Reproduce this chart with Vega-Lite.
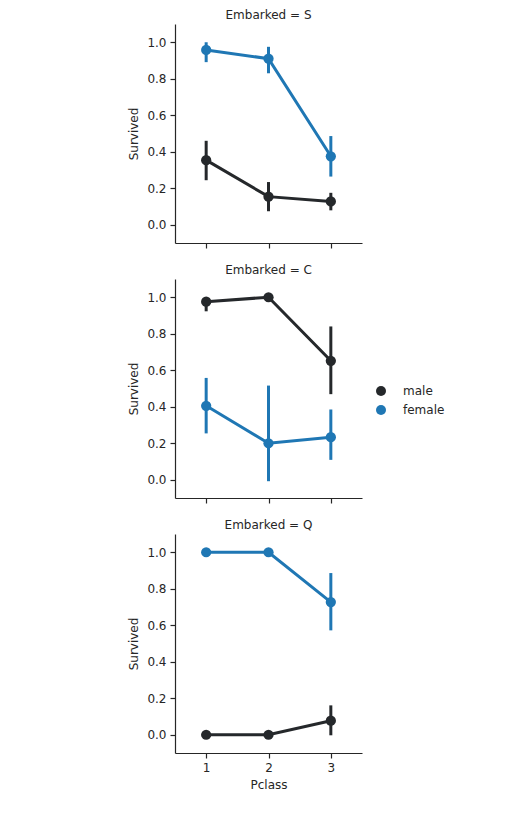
{
  "$schema": "https://vega.github.io/schema/vega-lite/v6.json",
  "padding": {"left": 127, "top": 9, "right": 5, "bottom": 5},
  "background": "white",
  "datasets": {
    "survival": [
      {"Embarked": "S", "Pclass": 1, "Sex": "male", "Survived": 0.354, "lo": 0.244, "hi": 0.46},
      {"Embarked": "S", "Pclass": 2, "Sex": "male", "Survived": 0.154, "lo": 0.074, "hi": 0.234},
      {"Embarked": "S", "Pclass": 3, "Sex": "male", "Survived": 0.128, "lo": 0.079, "hi": 0.175},
      {"Embarked": "S", "Pclass": 1, "Sex": "female", "Survived": 0.958, "lo": 0.891, "hi": 1.0},
      {"Embarked": "S", "Pclass": 2, "Sex": "female", "Survived": 0.91, "lo": 0.83, "hi": 0.975},
      {"Embarked": "S", "Pclass": 3, "Sex": "female", "Survived": 0.375, "lo": 0.264, "hi": 0.486},
      {"Embarked": "C", "Pclass": 1, "Sex": "male", "Survived": 0.976, "lo": 0.923, "hi": 1.0},
      {"Embarked": "C", "Pclass": 2, "Sex": "male", "Survived": 1.0, "lo": 1.0, "hi": 1.0},
      {"Embarked": "C", "Pclass": 3, "Sex": "male", "Survived": 0.652, "lo": 0.469, "hi": 0.84},
      {"Embarked": "C", "Pclass": 1, "Sex": "female", "Survived": 0.405, "lo": 0.254, "hi": 0.558},
      {"Embarked": "C", "Pclass": 2, "Sex": "female", "Survived": 0.2, "lo": -0.008, "hi": 0.516},
      {"Embarked": "C", "Pclass": 3, "Sex": "female", "Survived": 0.233, "lo": 0.109, "hi": 0.385},
      {"Embarked": "Q", "Pclass": 1, "Sex": "male", "Survived": 0.0, "lo": 0.0, "hi": 0.0},
      {"Embarked": "Q", "Pclass": 2, "Sex": "male", "Survived": 0.0, "lo": 0.0, "hi": 0.0},
      {"Embarked": "Q", "Pclass": 3, "Sex": "male", "Survived": 0.077, "lo": -0.003, "hi": 0.161},
      {"Embarked": "Q", "Pclass": 1, "Sex": "female", "Survived": 1.0, "lo": 1.0, "hi": 1.0},
      {"Embarked": "Q", "Pclass": 2, "Sex": "female", "Survived": 1.0, "lo": 1.0, "hi": 1.0},
      {"Embarked": "Q", "Pclass": 3, "Sex": "female", "Survived": 0.727, "lo": 0.572, "hi": 0.886}
    ]
  },
  "data": {"name": "survival"},
  "spacing": 15,
  "vconcat": [
    {
      "title": "Embarked = S",
      "width": 187,
      "height": 219,
      "transform": [{"filter": "datum.Embarked == 'S'"}],
      "encoding": {
        "x": {"field": "Pclass", "type": "ordinal", "scale": {"type": "point", "padding": 0.5},
              "axis": {"labels": false, "title": null}},
        "color": {"field": "Sex", "type": "nominal", "legend": null,
                  "scale": {"domain": ["male", "female"], "range": ["#25282b", "#1f77b4"]}}
      },
      "layer": [
        {"mark": {"type": "line", "strokeWidth": 3},
         "encoding": {"y": {"field": "Survived", "type": "quantitative", "title": "Survived",
                            "scale": {"domain": [-0.05, 1.053]},
                            "axis": {"values": [0, 0.2, 0.4, 0.6, 0.8, 1.0], "format": ".1f"}}}},
        {"mark": {"type": "rule", "strokeWidth": 3},
         "encoding": {"y": {"field": "lo", "type": "quantitative"}, "y2": {"field": "hi"}}},
        {"mark": {"type": "point", "filled": true, "opacity": 1, "size": 105},
         "encoding": {"y": {"field": "Survived", "type": "quantitative"}}}
      ]
    },
    {
      "title": "Embarked = C",
      "width": 187,
      "height": 219,
      "transform": [{"filter": "datum.Embarked == 'C'"}],
      "encoding": {
        "x": {"field": "Pclass", "type": "ordinal", "scale": {"type": "point", "padding": 0.5},
              "axis": {"labels": false, "title": null}},
        "color": {"field": "Sex", "type": "nominal",
                  "scale": {"domain": ["male", "female"], "range": ["#25282b", "#1f77b4"]},
                  "legend": {"title": null, "orient": "none", "legendX": 200, "legendY": 106,
                             "symbolType": "circle", "symbolSize": 100, "symbolStrokeWidth": 0,
                             "labelOffset": 16, "rowPadding": 7, "padding": 0}}
      },
      "layer": [
        {"mark": {"type": "line", "strokeWidth": 3},
         "encoding": {"y": {"field": "Survived", "type": "quantitative", "title": "Survived",
                            "scale": {"domain": [-0.05, 1.053]},
                            "axis": {"values": [0, 0.2, 0.4, 0.6, 0.8, 1.0], "format": ".1f"}}}},
        {"mark": {"type": "rule", "strokeWidth": 3},
         "encoding": {"y": {"field": "lo", "type": "quantitative"}, "y2": {"field": "hi"}}},
        {"mark": {"type": "point", "filled": true, "opacity": 1, "size": 105},
         "encoding": {"y": {"field": "Survived", "type": "quantitative"}}}
      ]
    },
    {
      "title": "Embarked = Q",
      "width": 187,
      "height": 219,
      "transform": [{"filter": "datum.Embarked == 'Q'"}],
      "encoding": {
        "x": {"field": "Pclass", "type": "ordinal", "scale": {"type": "point", "padding": 0.5},
              "axis": {"labelAngle": 0, "title": "Pclass"}},
        "color": {"field": "Sex", "type": "nominal", "legend": null,
                  "scale": {"domain": ["male", "female"], "range": ["#25282b", "#1f77b4"]}}
      },
      "layer": [
        {"mark": {"type": "line", "strokeWidth": 3},
         "encoding": {"y": {"field": "Survived", "type": "quantitative", "title": "Survived",
                            "scale": {"domain": [-0.05, 1.053]},
                            "axis": {"values": [0, 0.2, 0.4, 0.6, 0.8, 1.0], "format": ".1f"}}}},
        {"mark": {"type": "rule", "strokeWidth": 3},
         "encoding": {"y": {"field": "lo", "type": "quantitative"}, "y2": {"field": "hi"}}},
        {"mark": {"type": "point", "filled": true, "opacity": 1, "size": 105},
         "encoding": {"y": {"field": "Survived", "type": "quantitative"}}}
      ]
    }
  ],
  "resolve": {"legend": {"color": "independent"}},
  "config": {
    "font": "DejaVu Sans",
    "view": {"stroke": null},
    "title": {"fontSize": 12, "fontWeight": "normal", "color": "#262626", "anchor": "middle", "offset": 2},
    "axis": {
      "grid": false,
      "labelFontSize": 12,
      "titleFontSize": 12,
      "titleFontWeight": "normal",
      "labelColor": "#262626",
      "titleColor": "#262626",
      "domainColor": "#262626",
      "domainWidth": 1.2,
      "tickColor": "#262626",
      "tickWidth": 1.2,
      "tickSize": 5,
      "labelPadding": 4,
      "titlePadding": 6
    },
    "legend": {"labelFontSize": 12, "labelColor": "#262626"}
  }
}
